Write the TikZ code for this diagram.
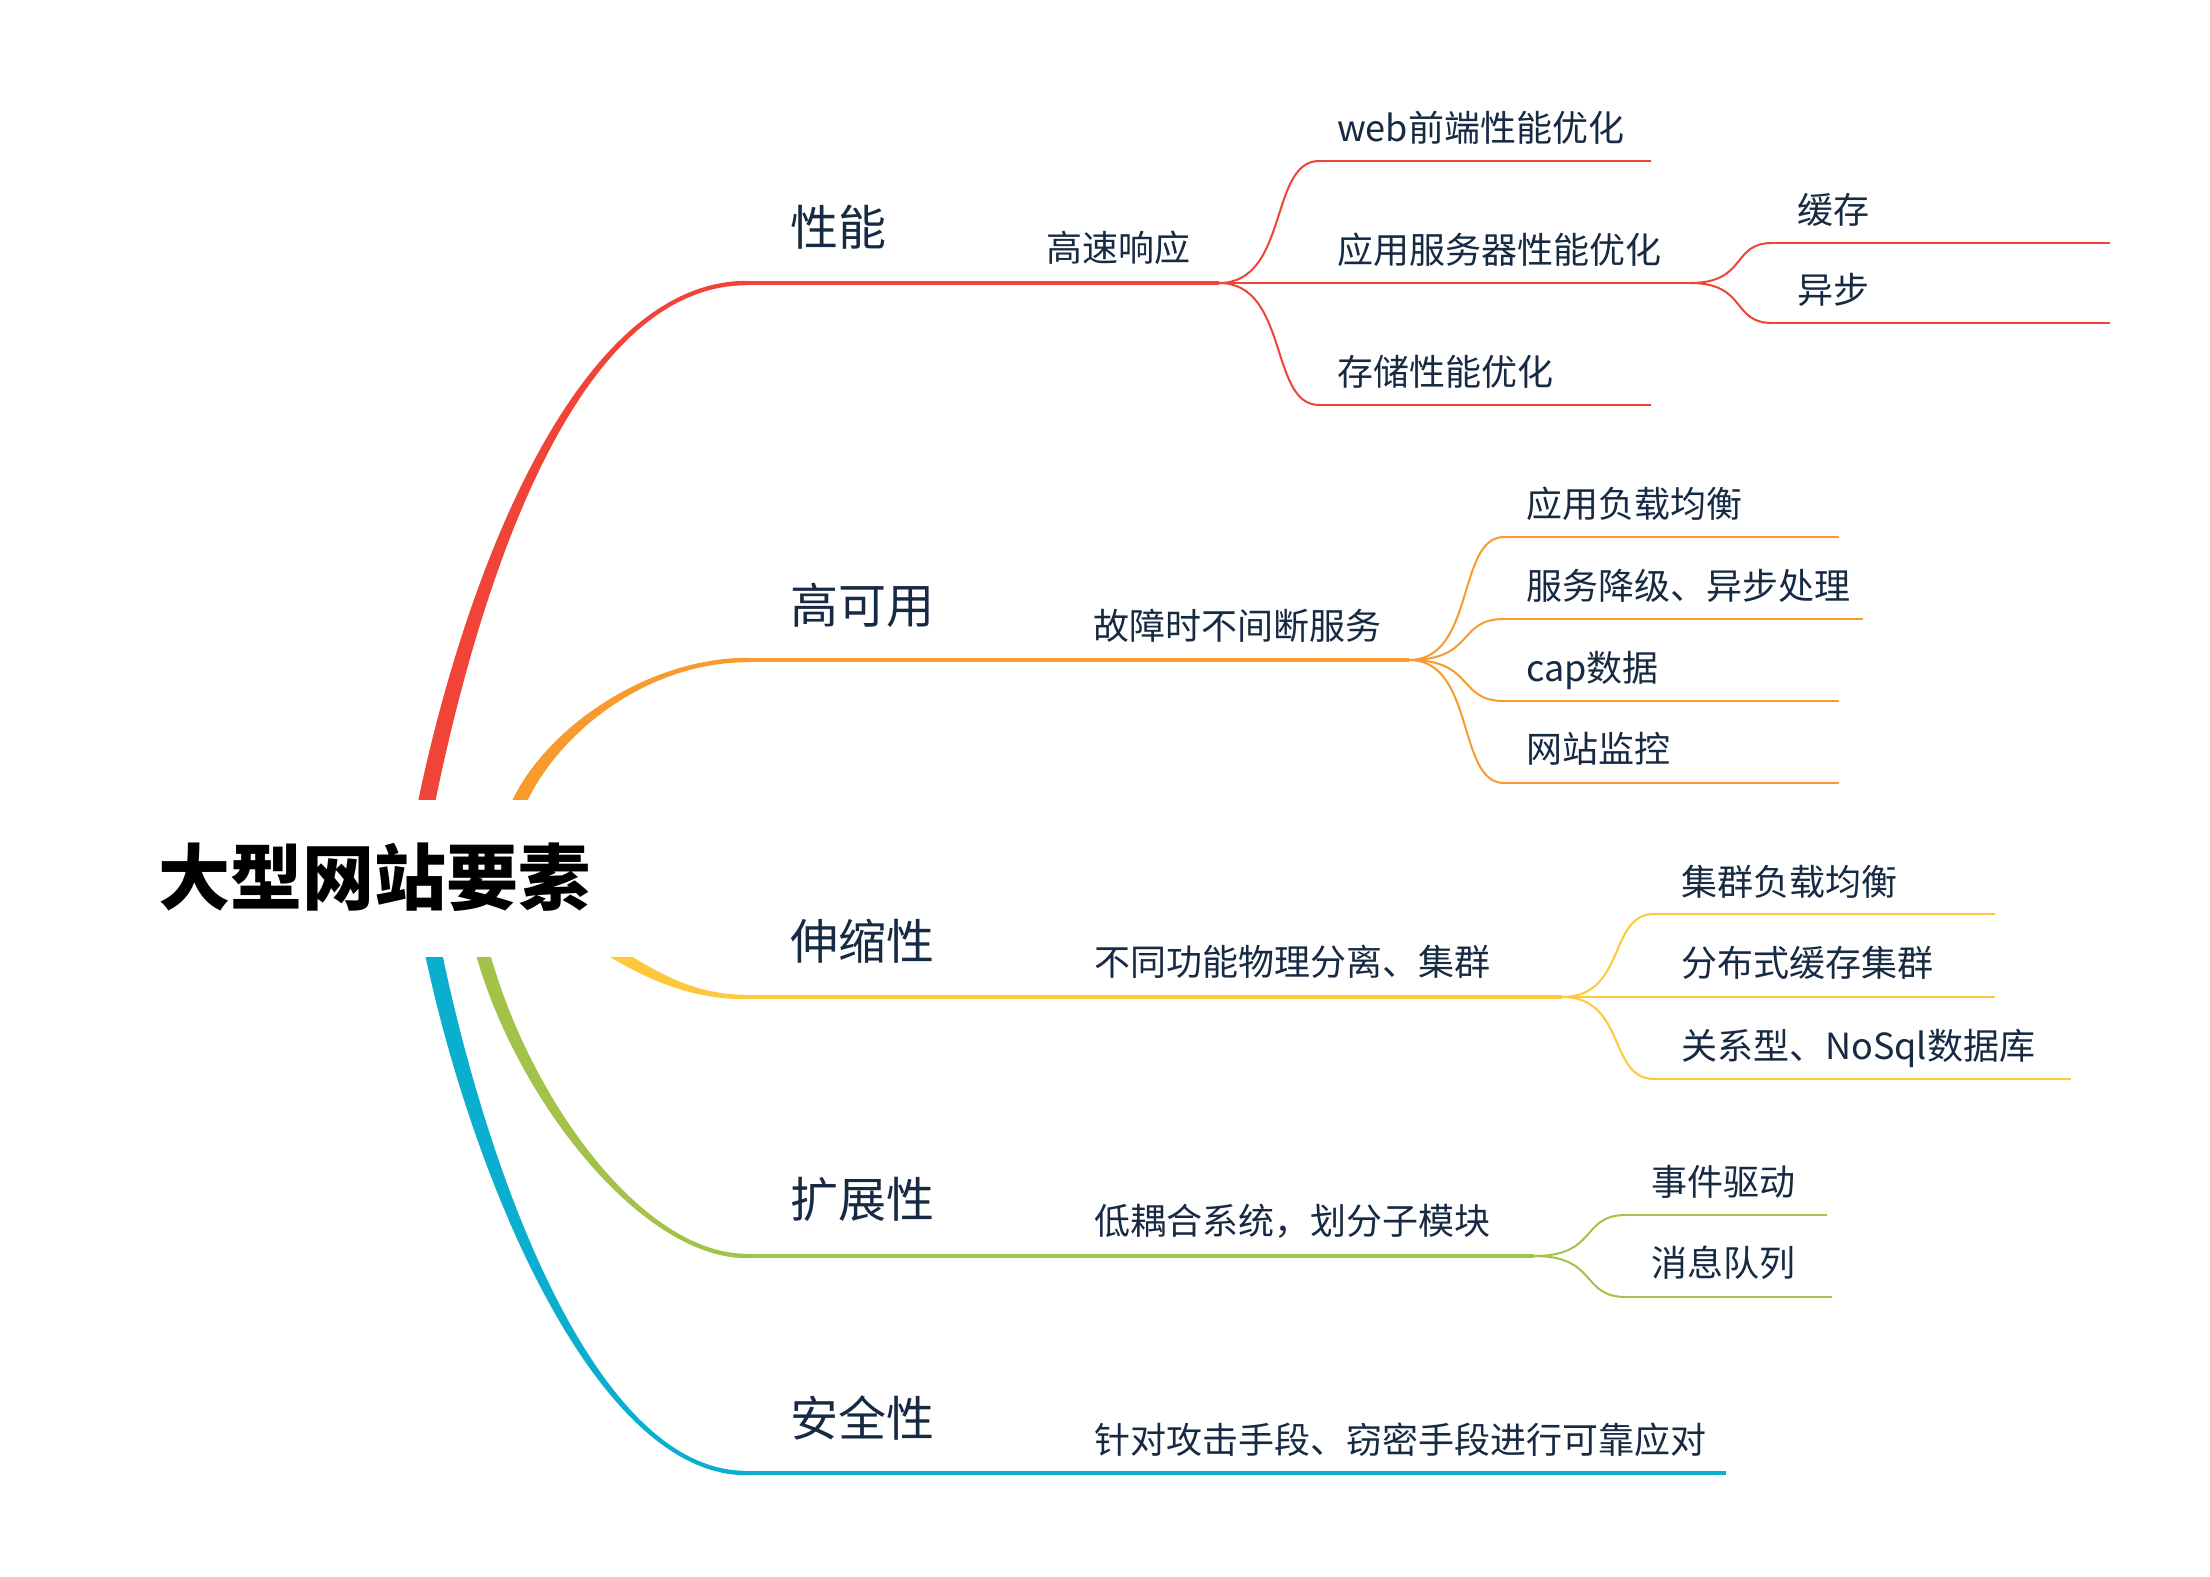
\documentclass[tikz,border=0pt]{standalone}
\usepackage{fontspec}
\setmainfont{Noto Sans CJK SC}
\usetikzlibrary{calc}
\definecolor{cred}{HTML}{F04438}
\definecolor{corange}{HTML}{F99A2E}
\definecolor{cyellow}{HTML}{FEC83C}
\definecolor{cgreen}{HTML}{A3C24A}
\definecolor{cteal}{HTML}{0AAFD0}
\definecolor{ctext}{HTML}{172A43}
% tapered main branch: color, P0, P1, P2, P3, start half width
\newcommand\taperbranch[6]{%
  \fill[#1] ($(#2)!#6!90:(#3)$) .. controls ($(#3)!#6!-90:(#2)$) and ($(#4)!2.2pt!90:(#5)$) .. ($(#5)!2.2pt!-90:(#4)$)
    -- ($(#5)!2.2pt!90:(#4)$) .. controls ($(#4)!2.2pt!-90:(#5)$) and ($(#3)!#6!90:(#2)$) .. ($(#2)!#6!-90:(#3)$) -- cycle;}
% thin s-curve connector: color, from, to
\newcommand\scurve[3]{%
  \draw[tline,#1] let \p1=(#2), \p2=(#3) in (\p1) .. controls ({\x1+0.7*(\x2-\x1)},\y1) and ({\x1+0.5*(\x2-\x1)},\y2) .. (\p2);}
\begin{document}
\begin{tikzpicture}[x=1pt,y=-1pt,
  lbl/.style={anchor=west, inner sep=0pt, text=ctext},
  big/.style={lbl, font=\fontsize{48}{56}\selectfont, text height=38.4pt, text depth=3.4pt},
  small/.style={lbl, font=\fontsize{36}{42}\selectfont, text height=28.8pt, text depth=2.5pt},
  mline/.style={line width=4.4pt},
  tline/.style={line width=2pt},
  rootnode/.style={fill=white, inner sep=0pt, minimum width=530pt, minimum height=157pt, text=black, text height=57.6pt, text depth=5pt, font=\fontsize{72}{80}\selectfont\bfseries}
]
\useasboundingbox[fill=white] (0,0) rectangle (2210,1576);

% ---------- red: 性能 ----------
\coordinate (rA) at (421,830); \coordinate (rB) at (465,600);
\coordinate (rC) at (570,283); \coordinate (r0) at (747,283);
\coordinate (rF) at (1219,283);
\taperbranch{cred}{rA}{rB}{rC}{r0}{8.5pt}
\draw[mline,cred] (r0) -- (rF);
\node[big] (perf) at (790,228) {性能};
\node[small] (perf1) at (1046,248.5) {高速响应};
\coordinate (rL1) at (1319,161); \coordinate (rL1e) at (1651,161);
\scurve{cred}{rF}{rL1} \draw[tline,cred] (rL1) -- (rL1e);
\node[small] (web) at (1337,128) {web前端性能优化};
\coordinate (rG) at (1690,283);
\draw[tline,cred] (rF) -- (rG);
\node[small] (appsrv) at (1337,250) {应用服务器性能优化};
\coordinate (rL3) at (1319,405); \coordinate (rL3e) at (1651,405);
\scurve{cred}{rF}{rL3} \draw[tline,cred] (rL3) -- (rL3e);
\node[small] (store) at (1337,372) {存储性能优化};
\coordinate (rM1) at (1772,243); \coordinate (rM1e) at (2110,243);
\scurve{cred}{rG}{rM1} \draw[tline,cred] (rM1) -- (rM1e);
\node[small] (cache) at (1797,210) {缓存};
\coordinate (rM2) at (1772,323); \coordinate (rM2e) at (2110,323);
\scurve{cred}{rG}{rM2} \draw[tline,cred] (rM2) -- (rM2e);
\node[small] (async) at (1797,290) {异步};

% ---------- orange: 高可用 ----------
\coordinate (oA) at (513,817); \coordinate (oB) at (540,740);
\coordinate (oC) at (640,660); \coordinate (o0) at (748,660);
\coordinate (oF) at (1409,660);
\taperbranch{corange}{oA}{oB}{oC}{o0}{7pt}
\draw[mline,corange] (o0) -- (oF);
\node[big] (ha) at (790,606) {高可用};
\node[small] (ha1) at (1093,626) {故障时不间断服务};
\coordinate (oL1) at (1504,537); \coordinate (oL1e) at (1839,537);
\coordinate (oL2) at (1504,619); \coordinate (oL2e) at (1863,619);
\coordinate (oL3) at (1504,701); \coordinate (oL3e) at (1839,701);
\coordinate (oL4) at (1504,783); \coordinate (oL4e) at (1839,783);
\scurve{corange}{oF}{oL1} \draw[tline,corange] (oL1) -- (oL1e);
\scurve{corange}{oF}{oL2} \draw[tline,corange] (oL2) -- (oL2e);
\scurve{corange}{oF}{oL3} \draw[tline,corange] (oL3) -- (oL3e);
\scurve{corange}{oF}{oL4} \draw[tline,corange] (oL4) -- (oL4e);
\node[small] (lb) at (1526,504) {应用负载均衡};
\node[small] (deg) at (1526,586) {服务降级、异步处理};
\node[small] (cap) at (1526,668) {cap数据};
\node[small] (mon) at (1526,749) {网站监控};

% ---------- yellow: 伸缩性 ----------
\coordinate (yA) at (600,944); \coordinate (yB) at (650,975);
\coordinate (yC) at (690,997); \coordinate (y0) at (747,997);
\coordinate (yF) at (1562,997);
\taperbranch{cyellow}{yA}{yB}{yC}{y0}{6pt}
\draw[mline,cyellow] (y0) -- (yF);
\node[big] (sc) at (790,941.5) {伸缩性};
\node[small] (sc1) at (1094,962.5) {不同功能物理分离、集群};
\coordinate (yL1) at (1654,914); \coordinate (yL1e) at (1995,914);
\coordinate (yL2e) at (1995,997);
\coordinate (yL3) at (1654,1079); \coordinate (yL3e) at (2071,1079);
\scurve{cyellow}{yF}{yL1} \draw[tline,cyellow] (yL1) -- (yL1e);
\draw[tline,cyellow] (yF) -- (yL2e);
\scurve{cyellow}{yF}{yL3} \draw[tline,cyellow] (yL3) -- (yL3e);
\node[small] (clb) at (1681,882) {集群负载均衡};
\node[small] (dc) at (1681,963) {分布式缓存集群};
\node[small] (db) at (1681,1046) {关系型、NoSql数据库};

% ---------- green: 扩展性 ----------
\coordinate (gA) at (477,930); \coordinate (gB) at (510,1080);
\coordinate (gC) at (635,1256); \coordinate (g0) at (747,1256);
\coordinate (gF) at (1534,1256);
\taperbranch{cgreen}{gA}{gB}{gC}{g0}{7pt}
\draw[mline,cgreen] (g0) -- (gF);
\node[big] (ex) at (790,1200) {扩展性};
\node[small] (ex1) at (1094,1221) {低耦合系统，划分子模块};
\coordinate (gL1) at (1626,1215); \coordinate (gL1e) at (1827,1215);
\coordinate (gL2) at (1626,1297); \coordinate (gL2e) at (1832,1297);
\scurve{cgreen}{gF}{gL1} \draw[tline,cgreen] (gL1) -- (gL1e);
\scurve{cgreen}{gF}{gL2} \draw[tline,cgreen] (gL2) -- (gL2e);
\node[small] (ev) at (1651,1182) {事件驱动};
\node[small] (mq) at (1651,1263) {消息队列};

% ---------- teal: 安全性 ----------
\coordinate (tA) at (428,926); \coordinate (tB) at (472,1156);
\coordinate (tC) at (590,1473); \coordinate (t0) at (746,1473);
\coordinate (tE) at (1726,1473);
\taperbranch{cteal}{tA}{tB}{tC}{t0}{8.5pt}
\draw[mline,cteal] (t0) -- (tE);
\node[big] (sec) at (790,1419) {安全性};
\node[small] (sec1) at (1094,1440) {针对攻击手段、窃密手段进行可靠应对};

% ---------- root ----------
\node[rootnode] (root) at (374,878) {大型网站要素};
\end{tikzpicture}
\end{document}
